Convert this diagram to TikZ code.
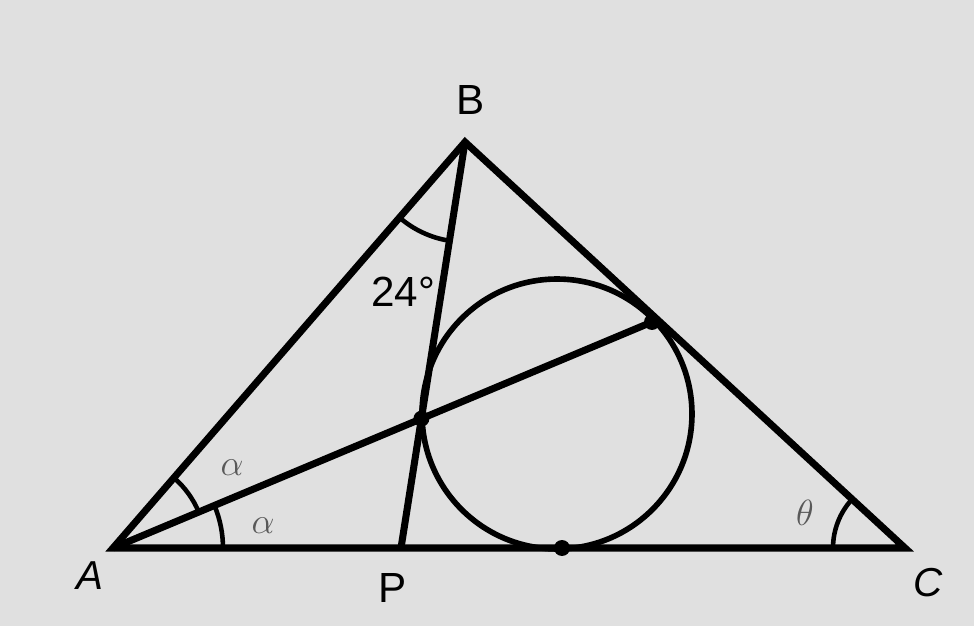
\documentclass[tikz,border=0pt]{standalone}
\usepackage{fontspec}
\setmainfont{Liberation Sans}
\begin{document}
\begin{tikzpicture}[x=0.02cm, y=0.02cm,
        edge/.style={line width=4pt},
        anglearc/.style={line width=2.6pt},
        dot/.style={circle, fill=black, inner sep=0pt, minimum size=0.32cm},
        lbl/.style={font=\fontsize{24}{28}\selectfont},
        greek/.style={text=black!65, font=\fontsize{21}{24}\selectfont}]
        % Background
        \fill[black!12] (0,0) rectangle (974,626);
        \useasboundingbox (0,0) rectangle (974,626);

        % Define coordinates
        \coordinate (A) at (113,78);
        \coordinate (B) at (465,484);
        \coordinate (C) at (905,78);
        \coordinate (P) at (401,78);
        \coordinate (O) at (557,212);
        \coordinate (Q) at (652,304);
        \coordinate (R) at (562,78);
        \coordinate (X) at (intersection of A--Q and B--P);

        % Draw the main triangle
        \draw[edge] (A) -- (B) -- (C) -- cycle;

        % Draw the cevians and the circle
        \draw[edge] (B) -- (P);
        \draw[edge] (A) -- (Q);
        \draw[line width=3.2pt] (O) circle[radius=2.7cm];

        % Angle marks
        \draw[anglearc] ([shift={(22.75:1.86cm)}]A) arc[start angle=22.75, end angle=49.07, radius=1.86cm];
        \draw[anglearc] ([shift={(0:2.2cm)}]A) arc[start angle=0, end angle=22.75, radius=2.2cm];
        \draw[anglearc] ([shift={(229.07:2cm)}]B) arc[start angle=229.07, end angle=261.04, radius=2cm];
        \draw[anglearc] ([shift={(137.31:1.44cm)}]C) arc[start angle=137.31, end angle=180, radius=1.44cm];

        % Touch points
        \node[dot] (dX) at (X) {};
        \node[dot] (dQ) at (Q) {};
        \node[dot] (dR) at (R) {};

        % Label vertices
        \node[lbl] (lB) at (471,526) {B};
        \node[lbl, font=\fontsize{23}{28}\selectfont\itshape] (lA) at (90,50) {A};
        \node[lbl] (lP) at (393,38) {P};
        \node[lbl, font=\fontsize{23}{28}\selectfont\itshape] (lC) at (928,43) {C};

        % Label angles
        \node[lbl] (l24) at (403,334) {24°};
        \node[greek] (a1) at (232,158) {$\alpha$};
        \node[greek] (a2) at (263,100) {$\alpha$};
        \node[greek] (th) at (805,113) {$\theta$};
    \end{tikzpicture}
\end{document}
